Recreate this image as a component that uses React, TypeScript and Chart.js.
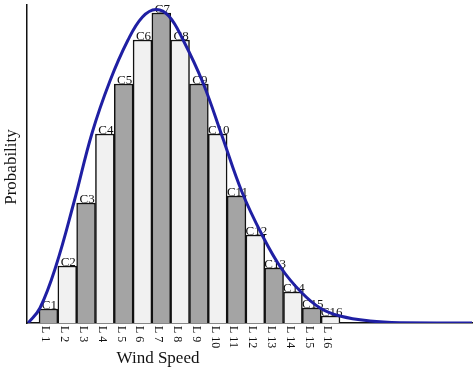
import { useEffect, useRef } from "react";
import { Chart, registerables } from "chart.js";

Chart.register(...registerables);

const categories = ["C1", "C2", "C3", "C4", "C5", "C6", "C7", "C8", "C9", "C10", "C11", "C12", "C13", "C14", "C15", "C16"];
const tickLabels = ["L 1", "L 2", "L 3", "L 4", "L 5", "L 6", "L 7", "L 8", "L 9", "L 10", "L 11", "L 12", "L 13", "L 14", "L 15", "L 16"];
const barPositions = [1, 2, 3, 4, 5, 6, 7, 8, 9, 10, 11, 12, 13, 14, 15, 16];
const barValues = [14, 57, 120, 189, 239, 283, 310, 283, 239, 189, 127, 88, 55, 31, 15, 7];
const curveX = [-0.08, 0.55, 1.4, 2.36, 3.32, 4.27, 5.23, 6.0, 6.72, 7.4, 8.16, 9.22, 10.23, 11.29, 12.36, 13.37, 14.43, 15.44, 16.5, 18.1, 19.7, 23.52];
const curveY = [0, 15, 57, 121, 190, 242, 283, 306, 313.5, 307, 283, 240, 187, 131, 88, 55, 31, 15, 7, 2, 0.3, 0];
const xTitle = "Wind Speed";
const yTitle = "Probability";

const FONT = "'Liberation Serif', 'Times New Roman', serif";

export default function App() {
  const ref = useRef<HTMLCanvasElement>(null);

  useEffect(() => {
    document.body.style.margin = "0";
    const canvas = ref.current;
    if (!canvas) return;

    const labelPlugin = {
      id: "customLabels",
      afterDatasetDraw(chart: any, args: any) {
        if (args.index !== 0) return;
        const ctx = chart.ctx;
        const xs = chart.scales.x;
        const ys = chart.scales.y;
        ctx.save();
        ctx.fillStyle = "#111";
        ctx.font = `13px ${FONT}`;
        ctx.textAlign = "center";
        ctx.textBaseline = "alphabetic";
        categories.forEach((c, i) => {
          const x = xs.getPixelForValue(barPositions[i]);
          const y = ys.getPixelForValue(barValues[i]);
          ctx.fillText(c, x + 1, y);
        });
        ctx.restore();
      },
      afterDraw(chart: any) {
        const ctx = chart.ctx;
        const xs = chart.scales.x;
        ctx.save();
        ctx.fillStyle = "#111";
        ctx.font = `12px ${FONT}`;
        tickLabels.forEach((t, i) => {
          const x = xs.getPixelForValue(barPositions[i]) - 3;
          ctx.save();
          ctx.translate(x, chart.chartArea.bottom + 3);
          ctx.rotate(Math.PI / 2);
          ctx.textAlign = "left";
          ctx.textBaseline = "middle";
          ctx.fillText(t, 0, 0);
          ctx.restore();
        });
        ctx.font = `17px ${FONT}`;
        ctx.textAlign = "center";
        ctx.textBaseline = "alphabetic";
        ctx.fillText(xTitle, 158, 363);
        ctx.save();
        ctx.translate(16, 167);
        ctx.rotate(-Math.PI / 2);
        ctx.fillText(yTitle, 0, 0);
        ctx.restore();
        ctx.restore();
      },
    };

    const chart = new Chart(canvas, {
      type: "bar",
      data: {
        datasets: [
          {
            type: "bar",
            data: barPositions.map((x, i) => ({ x, y: barValues[i] })),
            backgroundColor: barPositions.map((_, i) => (i % 2 === 0 ? "#a4a4a4" : "#f1f1f1")),
            borderColor: "#111",
            borderWidth: 1.5,
            barPercentage: 1,
            categoryPercentage: 1,
            order: 1,
          } as any,
          {
            type: "line",
            data: curveX.map((x, i) => ({ x, y: curveY[i] })),
            borderColor: "#1f1fa3",
            borderWidth: 3,
            pointRadius: 0,
            fill: false,
            tension: 0.4,
            order: 0,
          } as any,
        ],
      },
      options: {
        responsive: false,
        animation: false,
        layout: { padding: { left: 27, right: 2, top: 5, bottom: 47 } },
        plugins: { legend: { display: false }, tooltip: { enabled: false } },
        scales: {
          x: {
            type: "linear",
            min: -0.14,
            max: 23.52,
            offset: false,
            ticks: { display: false },
            grid: { display: false, drawTicks: false, tickLength: 0 },
            border: { display: true, color: "#111", width: 1.5 },
          },
          y: {
            type: "linear",
            min: 0,
            max: 318,
            ticks: { display: false },
            grid: { display: false, drawTicks: false, tickLength: 0 },
            border: { display: true, color: "#111", width: 1.5 },
          },
        },
      },
      plugins: [labelPlugin],
    });

    return () => chart.destroy();
  }, []);

  return (
    <div style={{ width: 474, height: 370, background: "#fff" }}>
      <canvas ref={ref} width={474} height={370} />
    </div>
  );
}
